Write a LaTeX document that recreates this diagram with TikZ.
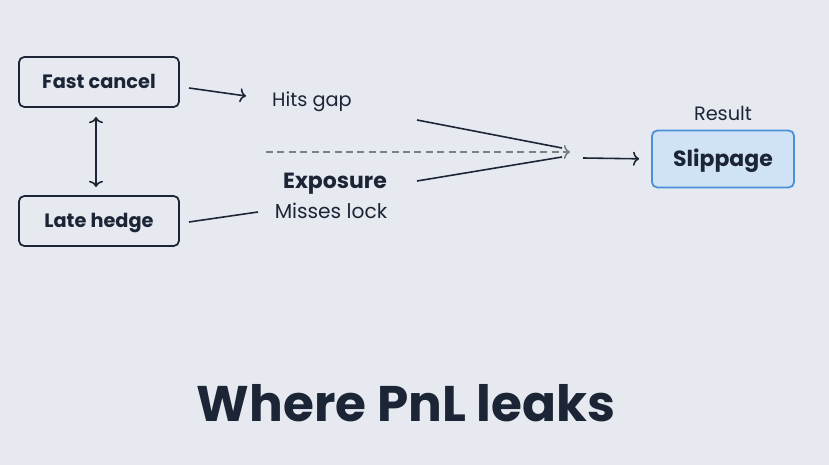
\documentclass[tikz,border=0pt]{standalone}
\usepackage{fontspec}
\setmainfont{Poppins}
\usetikzlibrary{positioning,arrows.meta}

\definecolor{bgcol}{HTML}{E6E9F0}
\definecolor{inkcol}{HTML}{1B2535}
\definecolor{greycol}{HTML}{7A808A}
\definecolor{bluefill}{HTML}{CFE2F6}
\definecolor{bluedraw}{HTML}{4A90D9}

\tikzset{
  >={To[length=3.5pt,width=8pt]},
  stepbox/.style={draw=inkcol, line width=1pt, rounded corners=3pt, text height=8pt, text depth=1pt,
    minimum width=3.2cm, minimum height=1cm, font=\bfseries\fontsize{11}{13}\selectfont, text=inkcol},
  resultbox/.style={stepbox, draw=bluedraw, fill=bluefill, minimum width=2.84cm, minimum height=1.14cm,
    text height=9pt, font=\bfseries\fontsize{12.5}{15}\selectfont},
  note/.style={text=inkcol, font=\fontsize{11}{13}\selectfont, inner sep=0pt},
  link/.style={draw=inkcol, line width=0.9pt}
}

\begin{document}
\begin{tikzpicture}[x=0.02cm, y=-0.02cm]

% Hintergrund
\fill[bgcol] (0,0) rectangle (829,465);

% Kästen links
\node[stepbox] (fast) at (99,82) {Fast cancel};
\node[stepbox] (late) at (99,221) {Late hedge};

% Beschriftungen in der Mitte
\node[note] (hits) at (312,102) {Hits gap};
\node[note, font=\bfseries\fontsize{12.5}{14}\selectfont] (expo) at (335,184) {Exposure};
\node[note, font=\fontsize{11.5}{13}\selectfont] (miss) at (331,211) {Misses lock};

% Ergebnis
\node[resultbox] (slip) at (723,159) {Slippage};
\node[note, above=5pt of slip] (res) {Result};

% Punkte der Linien
\coordinate (fs) at (96,117);
\coordinate (ln) at (96,187);
\coordinate (fastout) at (189,88);
\coordinate (fastend) at (246,96);
\coordinate (lateout) at (189,222);
\coordinate (lateend) at (258,212);
\coordinate (dashin) at (266,152);
\coordinate (tip) at (570,152);
\coordinate (upin) at (417,120);
\coordinate (upout) at (562,148);
\coordinate (lowin) at (417,181);
\coordinate (lowout) at (562,157);
\coordinate (slipin) at (583,158);

% Pfeile
\draw[link, <->] (fs) -- (ln);
\draw[link, ->] (fastout) -- (fastend);
\draw[link] (lateout) -- (lateend);
\draw[greycol, line width=0.9pt, dash pattern=on 4pt off 2.5pt, ->] (dashin) -- (tip);
\draw[link] (upin) -- (upout);
\draw[link] (lowin) -- (lowout);
\draw[link, ->, shorten >=12*0.02cm] (slipin) -- (slip.west);

% Titel
\node[text=inkcol, font=\bfseries\fontsize{28.5}{32}\selectfont] (title) at (406,403) {Where PnL leaks};

\end{tikzpicture}
\end{document}
